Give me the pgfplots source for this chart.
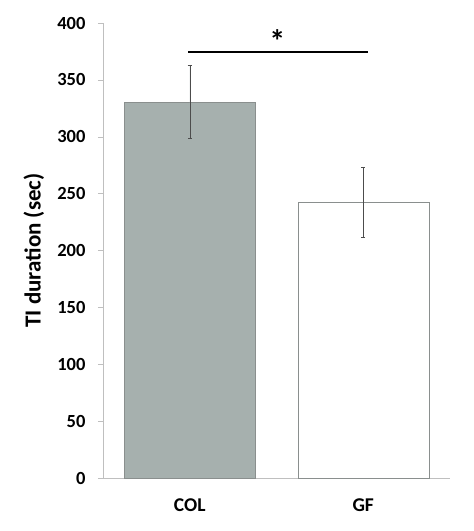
\documentclass[border=0pt]{standalone}
\usepackage{fontspec}
\setmainfont{Carlito}
\usepackage{pgfplots}
\pgfplotsset{compat=1.18}
\definecolor{colbar}{HTML}{A6B0AE}
\definecolor{barline}{HTML}{8A8F8E}
\definecolor{axisgray}{HTML}{BFBFBF}

\begin{document}
\begin{tikzpicture}[x=1pt,y=1pt]
  \path[use as bounding box] (0,0) rectangle (474,531);
\begin{axis}[
    at={(103pt,53pt)}, anchor=south west,
    scale only axis, width=347pt, height=455pt,
    xmin=-0.5, xmax=1.5,
    ymin=0, ymax=400,
    ytick={0,50,...,400},
    xtick={0,1}, xticklabels={COL,GF},
    major x tick style={draw=none},
    extra x ticks={-0.5,0.5,1.5}, extra x tick labels={},
    extra x tick style={major tick length=5pt, tick style={draw=axisgray, thin}},
    axis x line*=bottom, axis y line*=left,
    axis line style={draw=axisgray, thin, -},
    y tick style={draw=axisgray, thin},
    tick align=outside, major tick length=5pt,
    ticklabel style={font=\bfseries\fontsize{18.5}{20}\selectfont},
    x tick label style={font=\bfseries\fontsize{19.5}{21}\selectfont, yshift=-12pt},
    /pgf/number format/assume math mode=true,
    y tick label style={xshift=-9pt},
    ylabel={TI duration (sec)},
    every axis y label/.style={at={(axis description cs:-0.199,0.5)}, rotate=90, anchor=center,
      font=\bfseries\fontsize{23}{25}\selectfont},
    ybar, bar width=131pt, bar shift=0pt,
    clip=false,
  ]
\addplot[fill=colbar, draw=barline, thin,
    error bars/.cd, y dir=both, y explicit,
    error bar style={draw=black!70, thin},
    error mark options={draw=black!70, thin, rotate=90, mark size=2pt}]
  coordinates {(0,330.5) +- (0,32)};
\addplot[fill=white, draw=barline, thin,
    error bars/.cd, y dir=both, y explicit,
    error bar style={draw=black!70, thin},
    error mark options={draw=black!70, thin, rotate=90, mark size=2pt}]
  coordinates {(1,242.6) +- (0,30.7)};
\draw[black, line width=2.5pt] (axis cs:-0.01,374.5) -- (axis cs:1.03,374.5);
\node[font=\bfseries\fontsize{32}{34}\selectfont] at (axis cs:0.505,384) {*};
\end{axis}
\end{tikzpicture}
\end{document}
